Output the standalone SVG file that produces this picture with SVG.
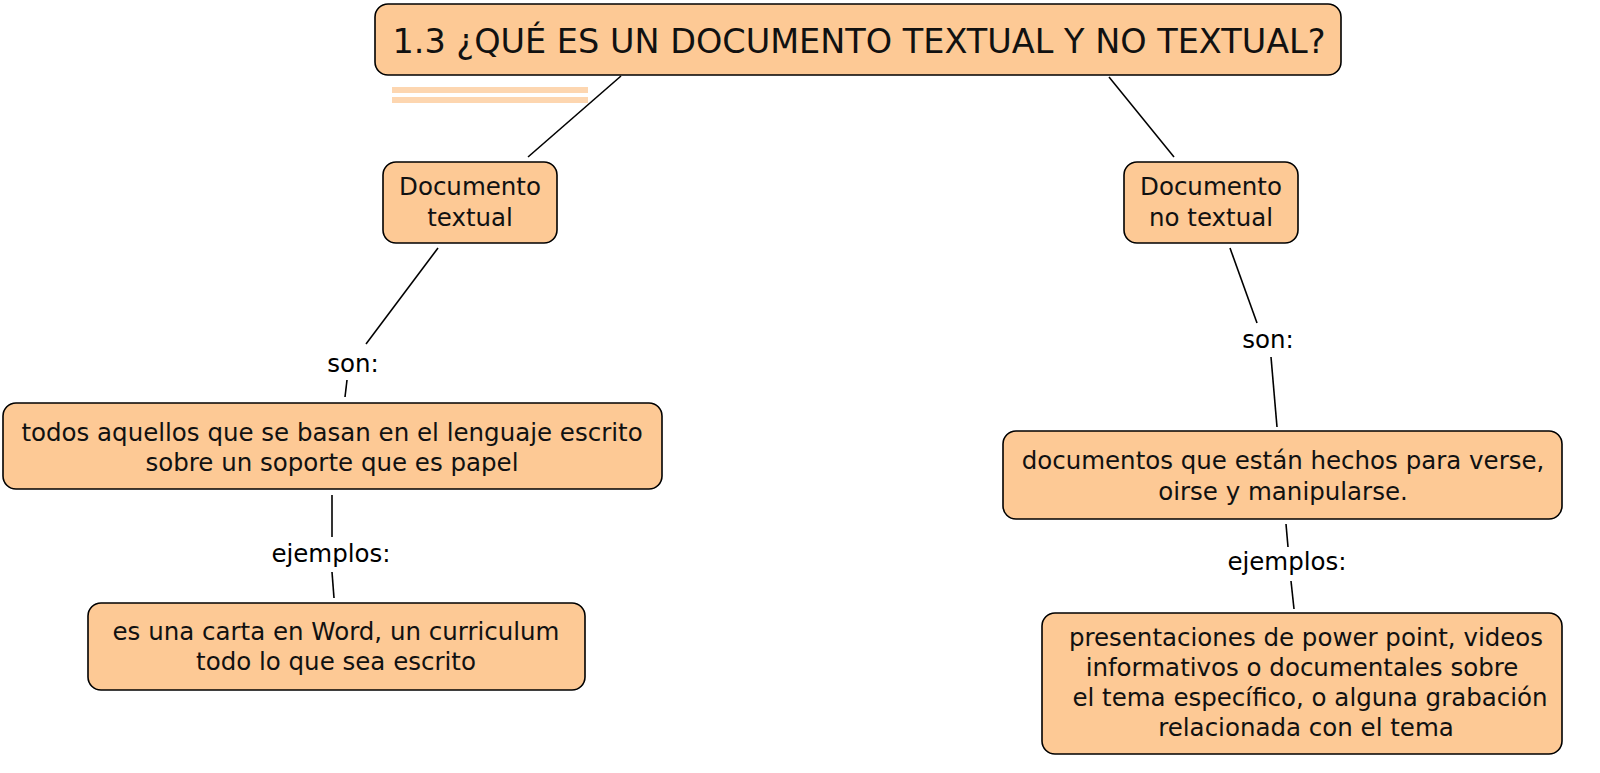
<svg xmlns="http://www.w3.org/2000/svg" width="1600" height="773" viewBox="0 0 1600 773">
<style>
.box{fill:#fdc995;stroke:#000;stroke-width:1.6}
.t{font-family:"DejaVu Sans","Noto Sans",sans-serif;font-size:24.5px;fill:#111;text-anchor:middle}
.title{font-size:33.5px}
.lnk{fill:#000}
#connectors line{stroke:#000;stroke-width:1.6}
</style>
<rect width="1600" height="773" fill="#fff"/>
<g id="connectors">
<line x1="621" y1="76" x2="528" y2="157"/>
<line x1="1109" y1="77" x2="1174" y2="157"/>
<line x1="438" y1="248" x2="366" y2="344"/>
<line x1="347" y1="380" x2="345" y2="397"/>
<line x1="1230" y1="248" x2="1257" y2="323"/>
<line x1="1271" y1="357" x2="1277" y2="427"/>
<line x1="332" y1="495" x2="332" y2="537"/>
<line x1="332" y1="572" x2="334" y2="598"/>
<line x1="1286" y1="524" x2="1288" y2="547"/>
<line x1="1291" y1="581" x2="1294" y2="609"/>
</g>
<g id="title">
<rect class="box" x="375" y="4" width="966" height="71" rx="13"/>
<text class="t title" x="859" y="53">1.3 ¿QUÉ ES UN DOCUMENTO TEXTUAL Y NO TEXTUAL?</text>
</g>
<g id="artifacts">
<rect x="392" y="87" width="196" height="6" fill="#fdd6b0"/>
<rect x="392" y="97" width="196" height="6" fill="#fdd6b0"/>
</g>
<g id="doc-textual">
<rect class="box" x="383" y="162" width="174" height="81" rx="13"/>
<text class="t" x="470" y="195">Documento</text>
<text class="t" x="470" y="226">textual</text>
</g>
<g id="doc-no-textual">
<rect class="box" x="1124" y="162" width="174" height="81" rx="13"/>
<text class="t" x="1211" y="195">Documento</text>
<text class="t" x="1211" y="226">no textual</text>
</g>
<g id="link-son-1"><text class="t lnk" x="353" y="372">son:</text></g>
<g id="link-son-2"><text class="t lnk" x="1268" y="348">son:</text></g>
<g id="todos">
<rect class="box" x="3" y="403" width="659" height="86" rx="13"/>
<text class="t" x="332" y="441">todos aquellos que se basan en el lenguaje escrito</text>
<text class="t" x="332" y="471">sobre un soporte que es papel</text>
</g>
<g id="documentos">
<rect class="box" x="1003" y="431" width="559" height="88" rx="13"/>
<text class="t" x="1283" y="469">documentos que están hechos para verse,</text>
<text class="t" x="1283" y="500">oirse y manipularse.</text>
</g>
<g id="link-ej-1"><text class="t lnk" x="331" y="562">ejemplos:</text></g>
<g id="link-ej-2"><text class="t lnk" x="1287" y="570">ejemplos:</text></g>
<g id="carta">
<rect class="box" x="88" y="603" width="497" height="87" rx="13"/>
<text class="t" x="336" y="640">es una carta en Word, un curriculum </text>
<text class="t" x="336" y="670">todo lo que sea escrito</text>
</g>
<g id="presentaciones">
<rect class="box" x="1042" y="613" width="520" height="141" rx="13"/>
<text class="t" x="1306" y="646">presentaciones de power point, videos</text>
<text class="t" x="1302" y="676">informativos o documentales sobre</text>
<text class="t" x="1310" y="706"> el tema específico, o alguna grabación</text>
<text class="t" x="1306" y="736">relacionada con el tema</text>
</g>
</svg>
